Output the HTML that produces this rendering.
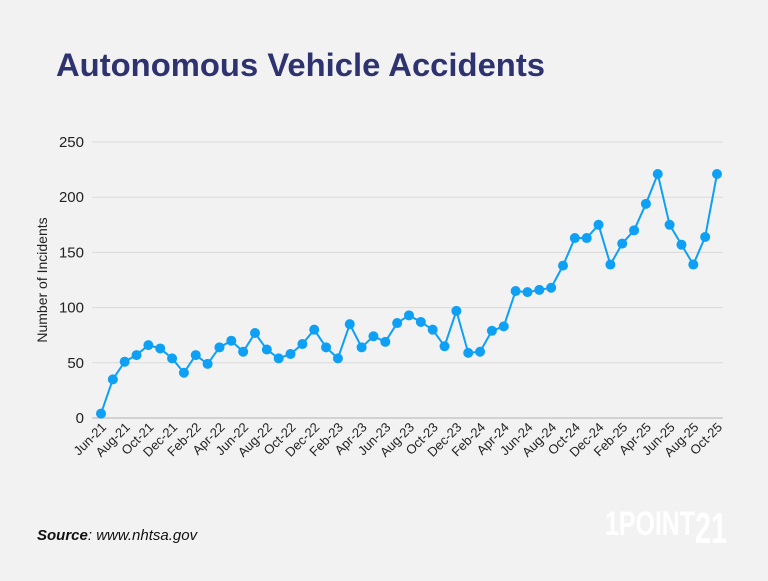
<!DOCTYPE html>
<html><head><meta charset="utf-8"><style>
body{margin:0;background:#f2f2f2;width:768px;height:576px;overflow:hidden;font-family:"Liberation Sans",sans-serif}
</style></head><body>
<svg width="768" height="576">
<rect width="768" height="576" fill="#f2f2f2"/>
<text x="56" y="76" font-size="32" font-weight="bold" fill="#2e3370" textLength="489" lengthAdjust="spacingAndGlyphs">Autonomous Vehicle Accidents</text>
<g id="grid"></g><g id="xt"></g><g id="yt"></g>
<text transform="translate(47,280) rotate(-90)" text-anchor="middle" font-size="14" fill="#222">Number of Incidents</text>
<g id="series"></g>
<text x="37" y="540" font-size="15" font-style="italic" fill="#111"><tspan font-weight="bold">Source</tspan>: www.nhtsa.gov</text>
<text x="605" y="535" font-size="34" font-weight="bold" fill="#ffffff" textLength="90" lengthAdjust="spacingAndGlyphs">1POINT</text>
<text x="695" y="543" font-size="44" font-weight="bold" fill="#ffffff" textLength="32" lengthAdjust="spacingAndGlyphs">21</text>
</svg>
<script>
const values=[4,35,51,57,66,63,54,41,57,49,64,70,60,77,62,54,58,67,80,64,54,85,64,74,69,86,93,87,80,65,97,59,60,79,83,115,114,116,118,138,163,163,175,139,158,170,194,221,175,157,139,164,221];
const months=["Jan","Feb","Mar","Apr","May","Jun","Jul","Aug","Sep","Oct","Nov","Dec"];
const yTicks=[0,50,100,150,200,250];
const NS="http://www.w3.org/2000/svg";
const x0=101,x1=717,y0=418,y1=142;
const xs=i=>x0+(x1-x0)*i/(values.length-1);
const ys=v=>y0-(y0-y1)*v/250;
function mk(t,a,p){const e=document.createElementNS(NS,t);for(const k in a)e.setAttribute(k,a[k]);p.appendChild(e);return e;}
const grid=document.getElementById('grid'),yt=document.getElementById('yt'),xt=document.getElementById('xt'),ser=document.getElementById('series');
yTicks.forEach(v=>{
 const l=mk('line',{x1:92,x2:723,y1:ys(v),y2:ys(v),stroke:v===0?'#c8c8c8':'#d9d9d9','stroke-width':v===0?1.5:1},grid);
 
 
 const t=mk('text',{x:84,y:ys(v)+5,'text-anchor':'end','font-size':15,fill:'#222'},yt);
 t.textContent=v;
 
 
});
values.forEach((v,i)=>{
 if(i%2)return;
 const m=(5+i)%12,yr=21+Math.floor((5+i)/12);
 const t=mk('text',{x:0,y:0,'text-anchor':'end','font-size':13,fill:'#222',transform:`translate(${xs(i)+6},${y0+10}) rotate(-45)`},xt);
 t.textContent=months[m]+'-'+yr;
 
 
});
const pl=mk('polyline',{points:values.map((v,i)=>xs(i)+','+ys(v)).join(' '),fill:'none',stroke:'#0ea0f5','stroke-width':2},ser);


values.forEach((v,i)=>{
 const c=mk('circle',{cx:xs(i),cy:ys(v),r:5,fill:'#0ea0f5'},ser);
 
 
});
</script>
</body></html>
